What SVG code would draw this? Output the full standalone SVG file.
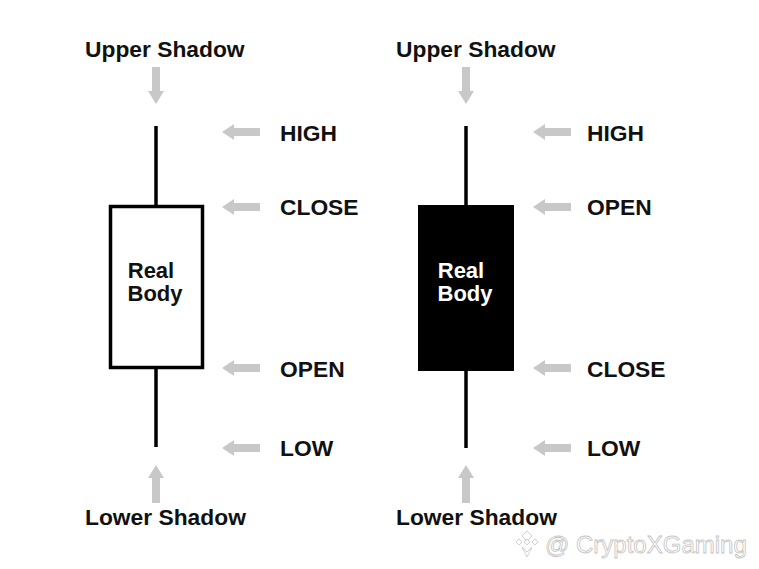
<svg xmlns="http://www.w3.org/2000/svg" width="759" height="569" viewBox="0 0 759 569">
<defs>
<style>
.lbl{font-family:"Liberation Sans",Arial,sans-serif;font-weight:bold;font-size:22.8px;fill:#111}
.body{font-family:"Liberation Sans",Arial,sans-serif;font-weight:bold;font-size:22px;text-anchor:middle}
.arr{fill:#c8c8c8}
.wick{stroke:#000;stroke-width:3.5;fill:none}
.wm{font-family:"Liberation Sans",Arial,sans-serif;font-size:24px;fill:#fff;stroke:#c4c4c4;stroke-width:0.8}
</style>
<path id="ha" d="M0,0 L12,-8 L12,-4 L38,-4 L38,4 L12,4 L12,8 Z"/>
</defs>
<rect width="759" height="569" fill="#fff"/>
<g id="connectors">
<use href="#ha" class="arr" x="222" y="132"/>
<use href="#ha" class="arr" x="222" y="207"/>
<use href="#ha" class="arr" x="222" y="368"/>
<use href="#ha" class="arr" x="222" y="448"/>
<use href="#ha" class="arr" x="533" y="132"/>
<use href="#ha" class="arr" x="533" y="207"/>
<use href="#ha" class="arr" x="533" y="368"/>
<use href="#ha" class="arr" x="533" y="448"/>
<path class="arr" d="M152,67 L160,67 L160,91 L164,91 L156,104 L148,91 L152,91 Z"/>
<path class="arr" d="M462,67 L470,67 L470,91 L474,91 L466,104 L458,91 L462,91 Z"/>
<path class="arr" d="M152,503 L160,503 L160,478 L164,478 L156,465 L148,478 L152,478 Z"/>
<path class="arr" d="M462,503 L470,503 L470,478 L474,478 L466,465 L458,478 L462,478 Z"/>
</g>
<g id="white-candle">
<line class="wick" x1="156" y1="126" x2="156" y2="206"/>
<line class="wick" x1="156" y1="368" x2="156" y2="447"/>
<rect x="110.5" y="206.5" width="92" height="161" fill="#fff" stroke="#000" stroke-width="3.5"/>
<text class="body" x="151" y="278" fill="#111">Real</text>
<text class="body" x="155" y="301" fill="#111">Body</text>
</g>
<g id="black-candle">
<line class="wick" x1="466" y1="126" x2="466" y2="206"/>
<line class="wick" x1="466" y1="369" x2="466" y2="448"/>
<rect x="418" y="205" width="96" height="166" fill="#000"/>
<text class="body" x="461" y="278" fill="#fff">Real</text>
<text class="body" x="465" y="301" fill="#fff">Body</text>
</g>
<g id="labels-left">
<text class="lbl" x="85" y="57">Upper Shadow</text>
<text class="lbl" x="280" y="141">HIGH</text>
<text class="lbl" x="280" y="215">CLOSE</text>
<text class="lbl" x="280" y="377">OPEN</text>
<text class="lbl" x="280" y="456">LOW</text>
<text class="lbl" x="85" y="525">Lower Shadow</text>
</g>
<g id="labels-right">
<text class="lbl" x="396" y="57">Upper Shadow</text>
<text class="lbl" x="587" y="141">HIGH</text>
<text class="lbl" x="587" y="215">OPEN</text>
<text class="lbl" x="587" y="377">CLOSE</text>
<text class="lbl" x="587" y="456">LOW</text>
<text class="lbl" x="396" y="525">Lower Shadow</text>
</g>
<g id="watermark" fill="#fff" stroke="#c4c4c4" stroke-width="0.8">
<path d="M527,531 L532,536 L527,541 L522,536 Z"/>
<path d="M519,539 L522,542 L519,545 L516,542 Z"/>
<path d="M535,539 L538,542 L535,545 L532,542 Z"/>
<path d="M527,539 L530,542 L527,545 L524,542 Z"/>
<path d="M522,547 L527,552 L532,547 L527,557 Z"/>
<text class="wm" x="545" y="553">@ CryptoXGaming</text>
</g>
</svg>
